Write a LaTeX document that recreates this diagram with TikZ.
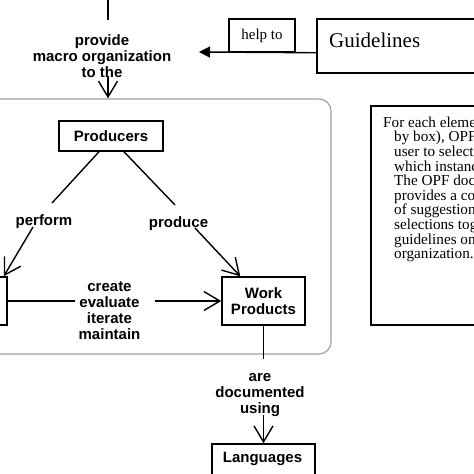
\documentclass[tikz,border=0pt]{standalone}
\usepackage{fontspec}
\setmainfont{Liberation Serif}
\setsansfont{Liberation Sans}
\usetikzlibrary{arrows.meta}
\begin{document}
\begin{tikzpicture}[x=1pt,y=-1pt,
  sans/.style={font=\fontsize{15}{16}\selectfont\sffamily\bfseries, align=center, inner sep=0pt},
  bx/.style={draw, line width=1.5pt, inner sep=0pt},
  con/.style={line width=1.4pt},
  barb/.style={con, -{Straight Barb[length=16pt,width=19pt]}},
  tri/.style={con, -{Triangle[length=11pt,width=11pt]}}]
\useasboundingbox (0,0) rectangle (474,474);
\clip (0,0) rectangle (474,474);

% container
\node[draw=gray!75, line width=1.2pt, rounded corners=12pt, minimum width=431pt, minimum height=255pt, inner sep=0pt] (cont) at (115.5,226.5) {};

% boxes
\node[bx, sans, minimum width=104pt, minimum height=30pt] (prod) at (111,136) {Producers};
\node[bx, minimum width=68pt, minimum height=48pt] (act) at (-27,301) {};
\node[bx, sans, minimum width=83pt, minimum height=48pt] (wp) at (263.5,301) {Work\\Products};
\node[bx, minimum width=103pt, minimum height=60pt] (lang) at (263.5,474) {};
\node[sans] (langt) at (262.5,459) {Languages};
\node[bx, minimum width=66pt, minimum height=33pt, font=\fontsize{15}{18}\selectfont] (help) at (262,35.5) {help to};
\node[bx, minimum width=200pt, minimum height=54pt] (guide) at (417,46) {};
\node[anchor=west, inner sep=0pt, font=\fontsize{21}{24}\selectfont] (guidet) at (329,40) {Guidelines};
\node[bx, minimum width=150pt, minimum height=219pt] (note) at (446,215.5) {};
\node[anchor=north west, inner sep=0pt, align=left, font=\fontsize{15.2}{14.6}\selectfont] (notet) at (383,116.5)
  {For each eleme\\
   \hspace*{11pt}by box), OPF\\
   \hspace*{11pt}user to select\\
   \hspace*{11pt}which instanc\\
   \hspace*{11pt}The OPF doc\\
   \hspace*{11pt}provides a co\\
   \hspace*{11pt}of suggestion\\
   \hspace*{11pt}selections tog\\
   \hspace*{11pt}guidelines on\\
   \hspace*{11pt}organization.};

% labels
\node[sans] (prov) at (102,56) {provide\\macro organization\\to the};
\node[sans] (perf) at (44,222) {perform};
\node[sans] (prodc) at (178.5,224) {produce};
\node[sans] (cre) at (109.5,311) {create\\evaluate\\iterate\\maintain};
\node[sans] (doc) at (260,395) {are\\documented\\using};

% coordinates
\coordinate (t1) at (108,-2);
\coordinate (t2) at (108,20);
\coordinate (t3) at (108,76);
\coordinate (a1) at (52,203);
\coordinate (a2) at (33,227);
\coordinate (b1) at (175,205);
\coordinate (b2) at (195,228);
\coordinate (c1) at (75,301);
\coordinate (c2) at (155,301);
\coordinate (d1) at (263.5,359);
\coordinate (d2) at (263.5,415);
\coordinate (hp) at (199,52);

% connectors
\draw[con] (t1) -- (t2);
\draw[barb] (t3) -- (t3 |- cont.north);
\draw[con] ([xshift=-12pt]prod.south) -- (a1);
\draw[barb] (a2) -- ([xshift=-4pt]act.north east);
\draw[con] ([xshift=13pt]prod.south) -- (b1);
\draw[barb] (b2) -- ([xshift=19pt]wp.north west);
\draw[con] (act.east) -- (c1);
\draw[barb] (c2) -- (wp.west);
\draw[con] (wp.south) -- (d1);
\draw[barb] (d2) -- (lang.north);
\draw[tri] (guide.west |- help.south) -- (hp);
\end{tikzpicture}
\end{document}
